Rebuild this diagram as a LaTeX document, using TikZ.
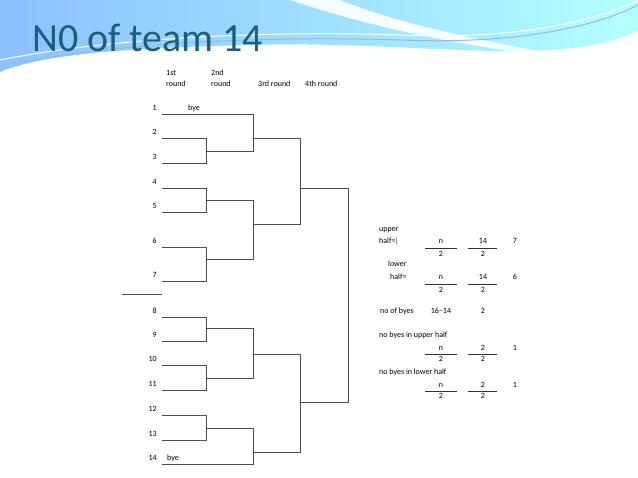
\documentclass[tikz,border=0pt]{standalone}
\usepackage{fontspec}
\setmainfont{Carlito}
\definecolor{ttl}{HTML}{1B5E7A}
\begin{document}
\begin{tikzpicture}[x=1pt,y=-1pt,
  br/.style={draw=black!70,line width=0.6pt},
  sm/.style={font=\fontsize{8}{9}\selectfont,inner sep=0pt},
  fr/.style={draw=black!80,line width=0.5pt}]
\useasboundingbox (0,0) rectangle (638,478);
\fill[white] (0,0) rectangle (638,478);
% swoosh
\shade[left color=cyan!45!blue!45,right color=cyan!30!white] (0,0) -- (638,0) -- (638,30) .. controls (560,70) and (420,40) .. (250,45) .. controls (120,48) and (40,55) .. (0,72) -- cycle;
\fill[white,opacity=0.9] (290,0) .. controls (380,30) and (480,50) .. (600,62) .. controls (500,45) and (400,25) .. (340,0) -- cycle;
\draw[cyan!50!blue!40,line width=1pt] (0,66) .. controls (100,45) and (250,35) .. (400,40) .. controls (520,45) and (600,25) .. (638,5);
\draw[white,line width=1pt] (0,60) .. controls (100,40) and (250,30) .. (400,35) .. controls (520,40) and (600,20) .. (638,0);
\fill[white] (105,62) rectangle (532,478);
\node[anchor=base west,inner sep=0pt,text=ttl,font=\fontsize{40}{42}\selectfont] (title) at (32,52) {N0 of team 14};
% headers
\node[sm,anchor=base west] (h1a) at (166,76) {1st};
\node[sm,anchor=base west] (h1b) at (166,87) {round};
\node[sm,anchor=base west] (h2a) at (211,76) {2nd};
\node[sm,anchor=base west] (h2b) at (211,87) {round};
\node[sm,anchor=base west] (h3) at (258,87) {3rd round};
\node[sm,anchor=base west] (h4) at (305,87) {4th round};
% team numbers
\foreach \n/\y in {1/114,2/138,3/163,4/188,5/212,6/247,7/281,8/317,9/341,10/365,11/390,12/415,13/440,14/464}{
  \coordinate (t\n) at (162,\y);
  \node[sm,anchor=base east] (l\n) at (157,\y-3) {\n};
}
\node[sm,anchor=base west] (b1) at (188,111) {bye};
\node[sm,anchor=base west] (b14) at (167,461) {bye};
\coordinate (s1) at (122,294); \coordinate (s2) at (162,294);
\draw[br] (s1)--(s2);
% round 1 pairs
\foreach \a/\b in {2/3,4/5,6/7,8/9,10/11,12/13}{
  \draw[br] (t\a) -| (206,0|-t\a) |- (206,0|-t\b) -- (t\b);
}
\coordinate (m23) at (206,151); \coordinate (m45) at (206,200); \coordinate (m67) at (206,259);
\coordinate (m89) at (206,328); \coordinate (m1011) at (206,378); \coordinate (m1213) at (206,428);
% round 2
\draw[br] (t1) -- (253,114) -- (253,151) -- (m23);
\draw[br] (m45) -- (253,200) -- (253,259) -- (m67);
\draw[br] (m89) -- (253,328) -- (253,378) -- (m1011);
\draw[br] (m1213) -- (253,428) -- (253,464) -- (t14);
% round 3
\coordinate (r1) at (253,138); \coordinate (r2) at (253,224);
\coordinate (r3) at (253,354); \coordinate (r4) at (253,452);
\draw[br] (r1) -- (300,138) -- (300,224) -- (r2);
\draw[br] (r3) -- (300,354) -- (300,452) -- (r4);
% round 4
\coordinate (q1) at (300,188); \coordinate (q2) at (300,402);
\draw[br] (q1) -- (348,188) -- (348,402) -- (q2);
% right calculations
\node[sm,anchor=base west] (u1) at (379,232) {upper};
\node[sm,anchor=base west] (u2) at (379,244) {half=$|$};
\node[sm,anchor=base west] (lw1) at (388,267) {lower};
\node[sm,anchor=base west] (lw2) at (390,280) {half=};
\foreach \y/\r/\nm in {244/7/a,280/6/b}{
  \node[sm,anchor=base] (n\nm) at (441,\y) {n};
  \node[sm,anchor=base] (d\nm) at (441,\y+13) {2};
  \draw[fr] (425,\y+4) -- (457,\y+4);
  \node[sm,anchor=base] (f\nm) at (483,\y) {14};
  \node[sm,anchor=base] (g\nm) at (483,\y+13) {2};
  \draw[fr] (468,\y+4) -- (497,\y+4);
  \node[sm,anchor=base] (r\nm) at (515,\y) {\r};
}
\node[sm,anchor=base west] (nb) at (380,314) {no of byes};
\node[sm,anchor=base] (nb2) at (441,314) {16--14};
\node[sm,anchor=base] (nb3) at (483,314) {2};
\node[sm,anchor=base west] (ub) at (379,338) {no byes in upper half};
\node[sm,anchor=base west] (lb) at (379,375) {no byes in lower half};
\foreach \y/\nm in {351/c,388/d}{
  \node[sm,anchor=base] (n\nm) at (441,\y) {n};
  \node[sm,anchor=base] (d\nm) at (441,\y+11) {2};
  \draw[fr] (425,\y+3) -- (457,\y+3);
  \node[sm,anchor=base] (f\nm) at (483,\y) {2};
  \node[sm,anchor=base] (g\nm) at (483,\y+11) {2};
  \draw[fr] (468,\y+3) -- (497,\y+3);
  \node[sm,anchor=base] (r\nm) at (515,\y) {1};
}
\end{tikzpicture}
\end{document}
